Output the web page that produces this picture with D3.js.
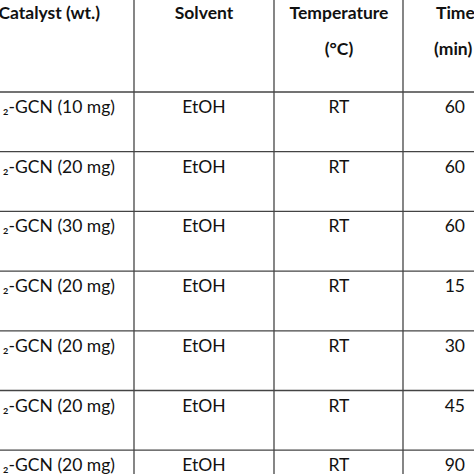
<!DOCTYPE html><html><head><script src="https://d3js.org/d3.v7.min.js"></script>
<style>body{margin:0;background:#fff}</style></head><body><script>
const catalysts=["₂-GCN (10 mg)","₂-GCN (20 mg)","₂-GCN (30 mg)","₂-GCN (20 mg)","₂-GCN (20 mg)","₂-GCN (20 mg)","₂-GCN (20 mg)"];
const solvents=["EtOH","EtOH","EtOH","EtOH","EtOH","EtOH","EtOH"];
const temps=["RT","RT","RT","RT","RT","RT","RT"];
const times=["60","60","60","15","30","45","90"];
const svg=d3.select("body").append("svg").attr("width",474).attr("height",474);
const font="Lato, Carlito, sans-serif";
const y=d3.scaleLinear().domain([0,1]).range([92,151.7]);
const g=svg.append("g").attr("stroke","#444").attr("stroke-width",1.3);
[134,274,403].forEach(x=>g.append("line").attr("x1",x).attr("x2",x).attr("y1",0).attr("y2",474));
d3.range(7).forEach(i=>g.append("line").attr("x1",0).attr("x2",474).attr("y1",y(i)).attr("y2",y(i)));
const t=(x,yy,s,a,w)=>svg.append("text").attr("x",x).attr("y",yy).attr("text-anchor",a).attr("font-family",font).attr("font-size",17.5).attr("font-weight",w||400).attr("fill","#111").text(s);
t(100,19,"Catalyst (wt.)","end",700);t(204,19,"Solvent","middle",700);t(339,19,"Temperature","middle",700);
t(339,55,"(°C)","middle",700);t(436,19,"Time","start",700);t(434,55,"(min)","start",700);
catalysts.forEach((c,i)=>{const yy=y(i)+21;t(115,yy,c,"end");t(204,yy,solvents[i],"middle");t(339,yy,temps[i],"middle");t(465,yy,times[i],"end");});
</script></body></html>
